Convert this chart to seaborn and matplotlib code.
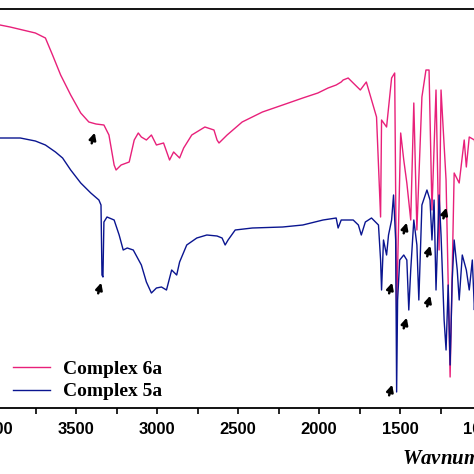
import matplotlib
matplotlib.use('Agg')
import matplotlib.pyplot as plt
import seaborn as sns
import pandas as pd

# IR spectra (wavenumber cm-1, transmittance a.u.)
wn_6a = [3969, 3907, 3751, 3689, 3645, 3595, 3533, 3471, 3421, 3377, 3328, 3297, 3265, 3253, 3222,
         3172, 3141, 3116, 3097, 3066, 3035, 3004, 2960, 2923, 2898, 2861, 2836, 2786, 2705, 2649,
         2630, 2618, 2568, 2475, 2350, 2225, 2101, 2008, 1945, 1895, 1864, 1852, 1821, 1790, 1746,
         1709, 1646, 1621, 1615, 1584, 1553, 1534, 1522, 1497, 1478, 1459, 1435, 1416, 1397, 1366,
         1341, 1322, 1304, 1279, 1260, 1248, 1217, 1192, 1167, 1136, 1105, 1092, 1074, 1042, 1024]
t_6a = [383, 381, 375, 370, 353, 333, 313, 295, 286, 284, 283, 273, 243, 238, 243,
        246, 268, 275, 271, 268, 273, 263, 265, 248, 256, 250, 260, 273, 281, 278,
        268, 265, 273, 286, 296, 303, 310, 315, 320, 323, 326, 328, 330, 325, 318,
        326, 291, 191, 288, 281, 330, 335, 98, 275, 248, 225, 188, 305, 178, 311,
        338, 338, 198, 318, 158, 318, 228, 31, 235, 225, 268, 241, 271, 268, 245]

wn_5a = [3969, 3844, 3751, 3689, 3627, 3583, 3533, 3471, 3409, 3359, 3346, 3340, 3334, 3328, 3309,
         3265, 3234, 3209, 3184, 3147, 3097, 3066, 3035, 3004, 2973, 2942, 2910, 2879, 2861, 2817,
         2755, 2693, 2630, 2599, 2580, 2562, 2518, 2412, 2225, 2101, 1976, 1895, 1883, 1864, 1790,
         1758, 1740, 1715, 1677, 1634, 1621, 1615, 1603, 1584, 1572, 1553, 1541, 1528, 1522, 1516,
         1503, 1478, 1459, 1447, 1435, 1416, 1397, 1385, 1366, 1335, 1316, 1304, 1291, 1279, 1260,
         1248, 1229, 1217, 1204, 1192, 1179, 1167, 1148, 1136, 1117, 1092, 1074, 1055, 1042, 1024]
t_5a = [270, 270, 267, 263, 256, 250, 238, 225, 215, 208, 203, 133, 131, 186, 191,
        188, 173, 158, 160, 158, 143, 126, 115, 120, 121, 118, 138, 133, 146, 163,
        170, 173, 172, 170, 163, 168, 178, 180, 181, 183, 188, 190, 180, 188, 188,
        183, 173, 186, 190, 183, 148, 118, 168, 153, 173, 188, 213, 168, 16, 108,
        148, 153, 148, 98, 138, 188, 163, 108, 203, 218, 208, 168, 208, 118, 213,
        173, 88, 58, 123, 43, 128, 168, 138, 108, 153, 138, 118, 148, 98, 163]

# arrow tips marking assigned bands
arrow_wn = [3380, 3340, 1545, 1455, 1455, 1545, 1310, 1310, 1210]
arrow_t = [278, 128, 128, 188, 93, 26, 165, 115, 203]

df = pd.concat([
    pd.DataFrame({'wn': wn_6a, 't': t_6a, 'sample': 'Complex 6a'}),
    pd.DataFrame({'wn': wn_5a, 't': t_5a, 'sample': 'Complex 5a'}),
])

fig = plt.figure(figsize=(4.74, 4.74), dpi=100)
ax = fig.add_axes([-5 / 474, 66 / 474, 1.06, 399 / 474])
sns.lineplot(data=df, x='wn', y='t', hue='sample', sort=False, estimator=None,
             palette={'Complex 6a': '#e8207a', 'Complex 5a': '#0a1590'}, lw=1.0, ax=ax)
ax.set_xlim(4000, 900)
ax.set_ylim(0, 399)
ax.set_xticks([4000, 3500, 3000, 2500, 2000, 1500, 1000])
ax.set_xticks([3750, 3250, 2750, 2250, 1750, 1250], minor=True)
ax.set_yticks([])
ax.set_xlabel('')
ax.set_ylabel('')
ax.tick_params(axis='x', which='both', direction='out', length=4, width=1.2, pad=6)
for lab in ax.get_xticklabels():
    lab.set_fontweight('bold')
    lab.set_fontsize(12)
    lab.set_family('Liberation Sans')
for s in ax.spines.values():
    s.set_linewidth(1.3)

for w, t in zip(arrow_wn, arrow_t):
    ax.annotate('', xy=(w, t), xytext=(w + 28, t - 16),
                arrowprops=dict(arrowstyle='-|>', color='black', lw=1.8, mutation_scale=10))

ax.legend(loc='lower left', bbox_to_anchor=(0.012, -0.01), frameon=False,
          prop={'family': 'Liberation Serif', 'weight': 'bold', 'size': 14},
          handlelength=1.9, handletextpad=0.7, labelspacing=0.25, borderaxespad=0.2)

fig.text(402 / 474, 9 / 474, 'Wavnumber (cm$^{-1}$)', family='Liberation Serif',
         style='italic', weight='bold', fontsize=15)

fig.savefig('out.png', dpi=100)
